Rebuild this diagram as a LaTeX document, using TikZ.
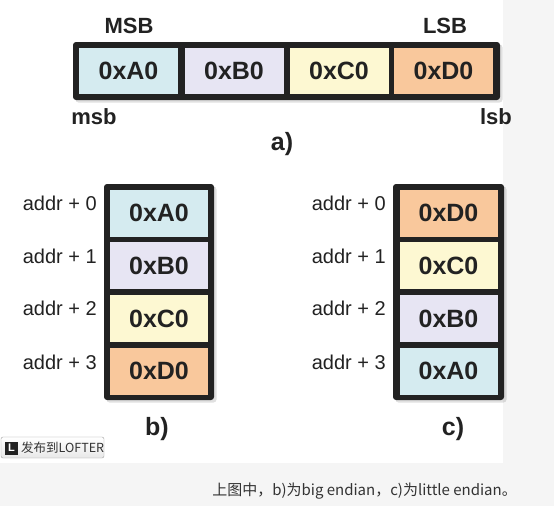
\documentclass[tikz,border=0pt]{standalone}
\usepackage{fontspec}
\setmainfont{Liberation Sans}
\newfontfamily\cjkfont{Noto Sans CJK SC}
\definecolor{bgray}{HTML}{F5F5F5}
\definecolor{frame}{HTML}{222222}
\definecolor{cA}{HTML}{D5EBF0}
\definecolor{cB}{HTML}{E7E5F3}
\definecolor{cC}{HTML}{FDF8D2}
\definecolor{cD}{HTML}{F9C89C}
\definecolor{txt}{HTML}{222222}
\definecolor{captxt}{HTML}{333333}
\tikzset{
  outerbox/.style={draw=none, fill=frame, rounded corners=3pt, inner sep=0pt},
  shadowbox/.style={draw=none, fill=black, opacity=0.12, rounded corners=3pt, inner sep=0pt},
  cell/.style={draw=none, inner sep=0pt, text=txt, font=\fontsize{25}{30}\selectfont\bfseries},
  hcell/.style={cell, minimum width=99pt, minimum height=46pt},
  vcell/.style={cell, minimum width=98pt, minimum height=47pt},
  biglabel/.style={text=txt, inner sep=0pt, font=\fontsize{22}{26}\selectfont\bfseries},
  sublabel/.style={text=txt, inner sep=0pt, font=\fontsize{25}{30}\selectfont\bfseries},
  addrlabel/.style={text=txt, inner sep=0pt, anchor=east, font=\fontsize{20}{24}\selectfont},
}
\begin{document}
\begin{tikzpicture}[x=1pt, y=-1pt]
\useasboundingbox (0,0) rectangle (554,506);
\fill[bgray] (0,0) rectangle (554,506);
\fill[white] (0,0) rectangle (503,463);

% a) row
\node[shadowbox, minimum width=427pt, minimum height=58pt] (rowAsh) at (289,73.5) {};
\node[outerbox, minimum width=427pt, minimum height=58pt] (rowA) at (286.5,71) {};
\node[hcell, fill=cA] (a1) at (128.5,71) {0xA0};
\node[hcell, fill=cB] (a2) at (234,71) {0xB0};
\node[hcell, fill=cC] (a3) at (339,71) {0xC0};
\node[hcell, fill=cD] (a4) at (443.5,71) {0xD0};
\node[biglabel] (msbU) at (129,26) {MSB};
\node[biglabel] (lsbU) at (445,26) {LSB};
\node[biglabel] (msbL) at (94,117) {msb};
\node[biglabel] (lsbL) at (496,117) {lsb};
\node[sublabel] (la) at (282,144) {a)};

% b) column
\node[shadowbox, minimum width=110pt, minimum height=216pt] (colBsh) at (161.5,294.5) {};
\node[outerbox, minimum width=110pt, minimum height=216pt] (colB) at (159,292) {};
\node[vcell, fill=cA] (b1) at (159,213) {0xA0};
\node[vcell, fill=cB] (b2) at (159,265.5) {0xB0};
\node[vcell, fill=cC] (b3) at (159,318.5) {0xC0};
\node[vcell, fill=cD] (b4) at (159,371) {0xD0};
\node[addrlabel] (ba0) at (97,203) {addr + 0};
\node[addrlabel] (ba1) at (97,256) {addr + 1};
\node[addrlabel] (ba2) at (97,308) {addr + 2};
\node[addrlabel] (ba3) at (97,362) {addr + 3};
\node[sublabel] (lb) at (157,429) {b)};

% c) column
\node[shadowbox, minimum width=111pt, minimum height=216pt] (colCsh) at (451,294.5) {};
\node[outerbox, minimum width=111pt, minimum height=216pt] (colC) at (448.5,292) {};
\node[vcell, fill=cD] (c1) at (448.5,213) {0xD0};
\node[vcell, fill=cC] (c2) at (448.5,265.5) {0xC0};
\node[vcell, fill=cB] (c3) at (448.5,318.5) {0xB0};
\node[vcell, fill=cA] (c4) at (448.5,371) {0xA0};
\node[addrlabel] (ca0) at (386,203) {addr + 0};
\node[addrlabel] (ca1) at (386,256) {addr + 1};
\node[addrlabel] (ca2) at (386,308) {addr + 2};
\node[addrlabel] (ca3) at (386,362) {addr + 3};
\node[sublabel] (lc) at (453,429) {c)};

% LOFTER button
\node[draw=gray!75, rounded corners=2pt, top color=white, bottom color=gray!18,
      minimum width=103pt, minimum height=21pt, inner sep=0pt] (btn) at (52.5,447.5) {};
\node[fill=frame, minimum size=13pt, inner sep=0pt, text=white,
      font=\fontsize{11}{12}\selectfont\bfseries] (icon) at (11.5,448) {L};
\node[anchor=west, inner sep=0pt, text=captxt, font=\cjkfont\fontsize{12.5}{14}\selectfont]
      (btntext) at (21,448) {发布到LOFTER};

% caption
\node[anchor=east, inner sep=0pt, text=captxt, font=\cjkfont\fontsize{15}{18}\selectfont]
      (cap) at (517,491) {上图中，b)为big endian，c)为little endian。};
\end{tikzpicture}
\end{document}
